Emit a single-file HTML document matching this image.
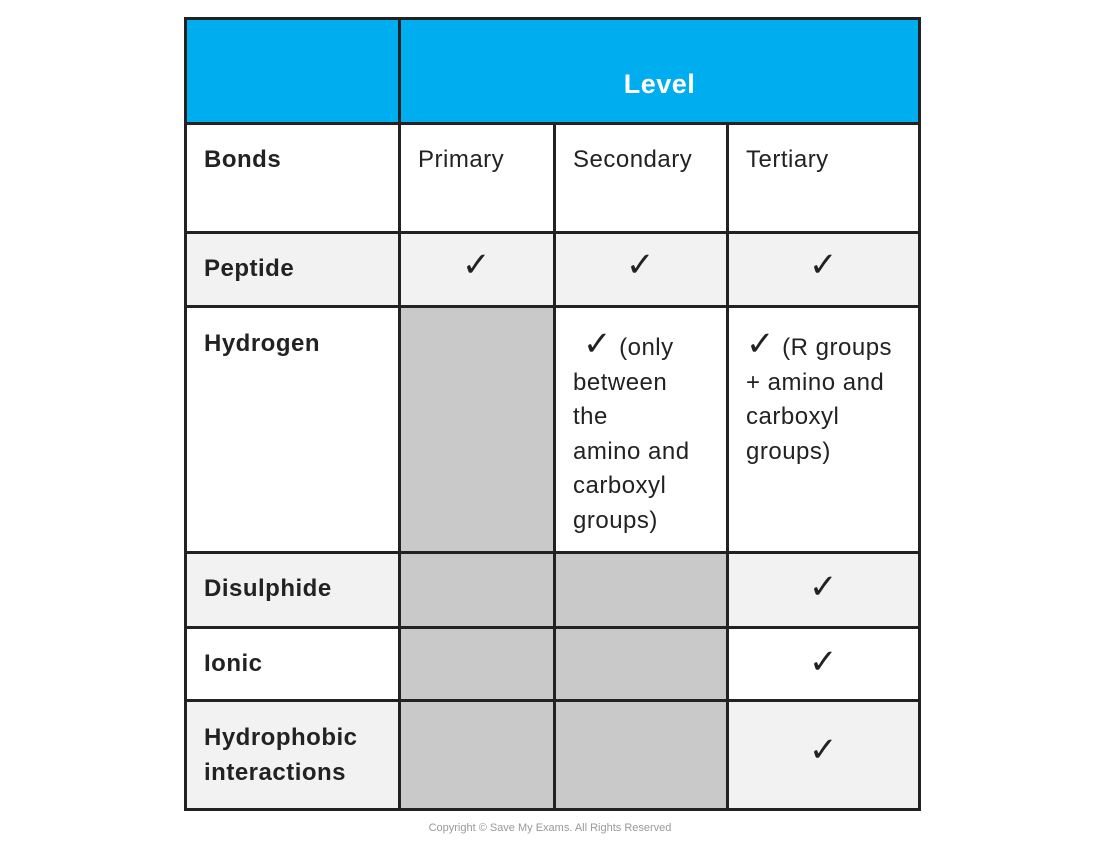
<!DOCTYPE html>
<html><head><meta charset="utf-8"><style>
body{margin:0;width:1100px;height:845px;background:#fff;position:relative;font-family:"Liberation Sans",sans-serif;overflow:hidden}
.c{position:absolute;box-sizing:border-box;font-size:24px;color:#222;line-height:34.5px;letter-spacing:0.5px}
.l{position:absolute;background:#222}
.b{font-weight:bold}
.ck{font-size:34px;text-align:center}
</style></head><body>
<!-- backgrounds -->
<div class="c" style="left:185px;top:18px;width:735px;height:105px;background:#00aeef"></div>
<div class="c" style="left:185px;top:232px;width:735px;height:74px;background:#f2f2f2"></div>
<div class="c" style="left:185px;top:552px;width:735px;height:75px;background:#f2f2f2"></div>
<div class="c" style="left:185px;top:700px;width:735px;height:109px;background:#f2f2f2"></div>
<div class="c" style="left:399px;top:306px;width:155px;height:503px;background:#c9c9c9"></div>
<div class="c" style="left:554px;top:552px;width:173px;height:257px;background:#c9c9c9"></div>
<!-- lines -->
<div class="l" style="left:184px;top:17px;width:3px;height:794px"></div>
<div class="l" style="left:918px;top:17px;width:3px;height:794px"></div>
<div class="l" style="left:398px;top:17px;width:3px;height:794px"></div>
<div class="l" style="left:553px;top:122px;width:3px;height:689px"></div>
<div class="l" style="left:726px;top:122px;width:3px;height:689px"></div>
<div class="l" style="left:184px;top:17px;width:737px;height:3px"></div>
<div class="l" style="left:184px;top:122px;width:737px;height:3px"></div>
<div class="l" style="left:184px;top:231px;width:737px;height:3px"></div>
<div class="l" style="left:184px;top:305px;width:737px;height:3px"></div>
<div class="l" style="left:184px;top:551px;width:737px;height:3px"></div>
<div class="l" style="left:184px;top:626px;width:737px;height:3px"></div>
<div class="l" style="left:184px;top:699px;width:737px;height:3px"></div>
<div class="l" style="left:184px;top:808px;width:737px;height:3px"></div>
<!-- text -->
<div class="c b" style="left:399px;top:67px;width:521px;text-align:center;color:#fff;font-size:27px">Level</div>
<div class="c b" style="left:204px;top:143px">Bonds</div>
<div class="c" style="left:418px;top:143px">Primary</div>
<div class="c" style="left:573px;top:143px">Secondary</div>
<div class="c" style="left:746px;top:143px">Tertiary</div>
<div class="c b" style="left:204px;top:252px">Peptide</div>
<div class="c ck" style="left:399px;top:248px;width:155px">✓</div>
<div class="c ck" style="left:554px;top:248px;width:173px">✓</div>
<div class="c ck" style="left:727px;top:248px;width:193px">✓</div>
<div class="c b" style="left:204px;top:327px">Hydrogen</div>
<div class="c" style="left:573px;top:327px"><span style="font-size:34px">&nbsp;✓</span> (only<br>between<br>the<br>amino and<br>carboxyl<br>groups)</div>
<div class="c" style="left:746px;top:327px"><span style="font-size:34px">✓</span> (R groups<br>+ amino and<br>carboxyl<br>groups)</div>
<div class="c b" style="left:204px;top:572px">Disulphide</div>
<div class="c ck" style="left:727px;top:570px;width:193px">✓</div>
<div class="c b" style="left:204px;top:647px">Ionic</div>
<div class="c ck" style="left:727px;top:645px;width:193px">✓</div>
<div class="c b" style="left:204px;top:721px">Hydrophobic<br>interactions</div>
<div class="c ck" style="left:727px;top:733px;width:193px">✓</div>
<div class="c" style="left:0;top:820px;width:1100px;text-align:center;font-size:11px;color:#999;line-height:16px;letter-spacing:0">Copyright © Save My Exams. All Rights Reserved</div>
</body></html>
